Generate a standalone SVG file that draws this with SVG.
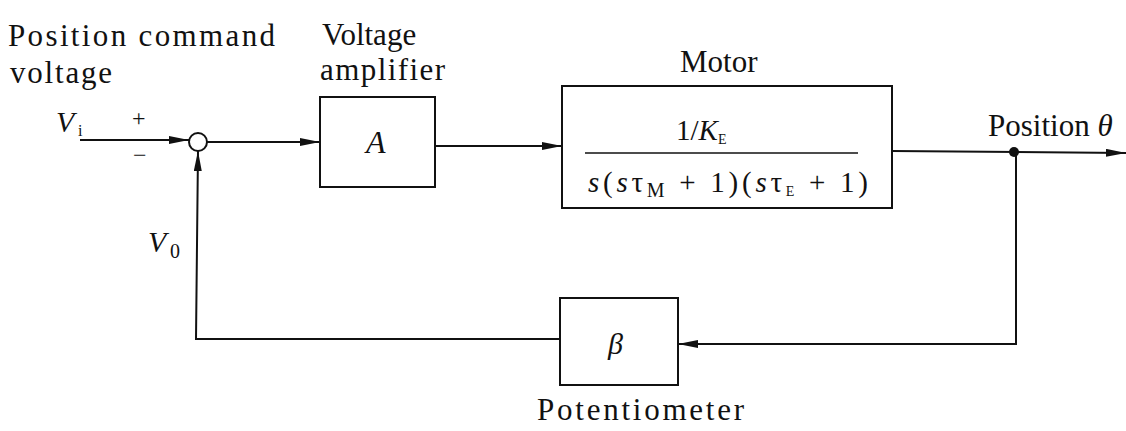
<svg xmlns="http://www.w3.org/2000/svg" width="1126" height="431" viewBox="0 0 1126 431" font-family="'Liberation Serif', 'DejaVu Serif', serif">
<style>
text{font-family:'Liberation Serif','DejaVu Serif',serif;fill:#111}
.b{fill:none;stroke:#111;stroke-width:2}
.l{fill:none;stroke:#111;stroke-width:2}
.lbl{font-size:31px}
</style>
<defs>
<marker id="a2" viewBox="0 0 20 8" refX="20" refY="4" markerWidth="20" markerHeight="8" markerUnits="userSpaceOnUse" orient="auto"><path d="M0,0L20,4L0,8z" fill="#111"/></marker></defs>
<rect width="1126" height="431" fill="#fff"/>
<g id="texts">
<text class="lbl" x="8" y="46" textLength="267">Position command</text>
<text class="lbl" x="10" y="83" textLength="102">voltage</text>
<text x="56" y="132" font-size="30" font-style="italic">V</text><text x="78" y="136" font-size="16">i</text>
<text x="132" y="126" font-size="24">+</text>
<text x="133" y="163" font-size="24">−</text>
<text x="148" y="252" font-size="30" font-style="italic">V</text><text x="170" y="258" font-size="20">0</text>
<text class="lbl" x="988" y="136">Position <tspan font-style="italic">θ</tspan></text>
</g>
<g id="sum"><circle cx="198" cy="142" r="9" fill="#fff" stroke="#111" stroke-width="2"/></g>
<g id="amp">
<text class="lbl" x="322" y="45">Voltage</text>
<text class="lbl" x="320" y="80" textLength="125">amplifier</text>
<rect class="b" x="320" y="97" width="115" height="90"/>
<text x="366" y="153" font-size="32" font-style="italic">A</text>
</g>
<g id="motor">
<text class="lbl" x="680" y="72">Motor</text>
<rect class="b" x="562" y="86" width="330" height="122"/>
<line x1="585" y1="153" x2="858" y2="153" stroke="#111" stroke-width="1.5"/>
<text x="676" y="140" font-size="29">1/<tspan font-style="italic">K</tspan><tspan font-size="14" dy="4">E</tspan></text>
<text x="588" y="192" font-size="29" textLength="280"><tspan font-style="italic">s</tspan>(<tspan font-style="italic">s</tspan>τ<tspan font-size="20" dy="5">M</tspan><tspan dy="-5"> + 1)(</tspan><tspan font-style="italic">s</tspan>τ<tspan font-size="14" dy="4">E</tspan><tspan dy="-4"> + 1)</tspan></text>
</g>
<g id="pot">
<rect class="b" x="560" y="298" width="118" height="87"/>
<text x="608" y="354" font-size="30" font-style="italic">β</text>
<text class="lbl" x="537" y="420" textLength="207">Potentiometer</text>
</g>
<g id="connectors">
<line class="l" x1="80" y1="140" x2="189" y2="140" marker-end="url(#a2)"/>
<line class="l" x1="207" y1="142" x2="320" y2="142" marker-end="url(#a2)"/>
<line class="l" x1="435" y1="146" x2="562" y2="146" marker-end="url(#a2)"/>
<line class="l" x1="892" y1="151" x2="1126" y2="153" marker-end="url(#a2)"/>
<circle cx="1014" cy="152" r="5" fill="#111"/>
<polyline class="l" points="1016,152 1016,344 678,344" marker-end="url(#a2)"/>
<polyline class="l" points="560,339 196,339 198,151" marker-end="url(#a2)"/>
</g>
</svg>
